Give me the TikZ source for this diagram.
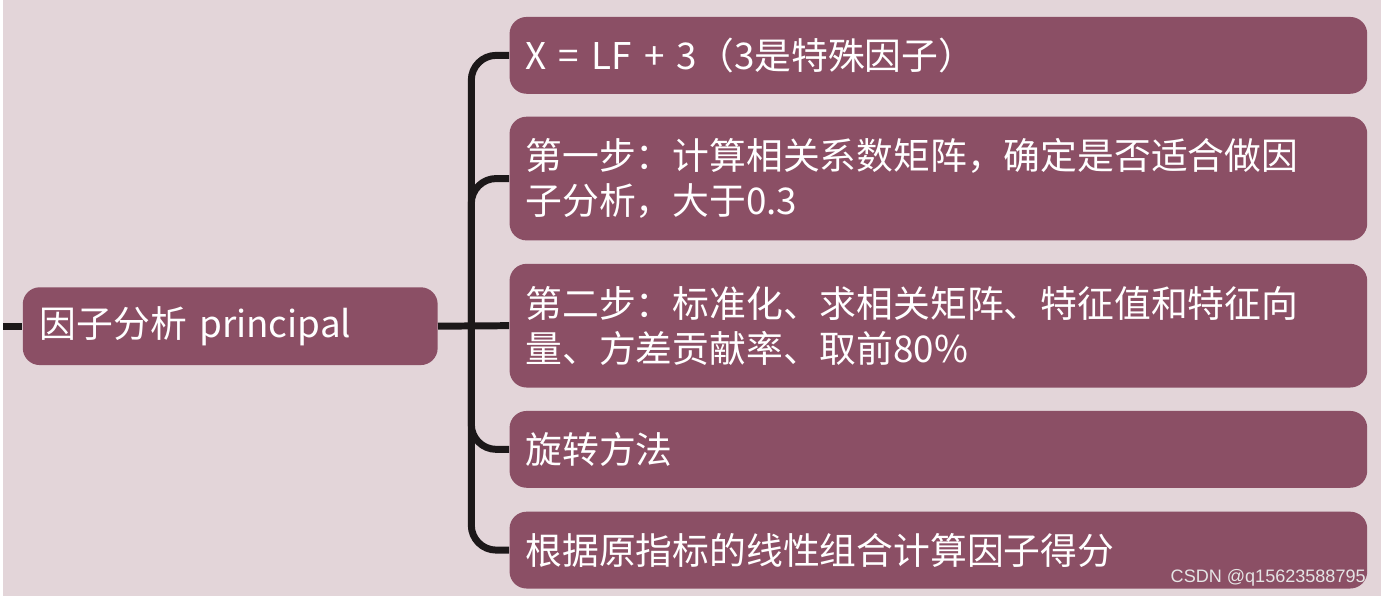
\documentclass[tikz,border=0pt]{standalone}
\usepackage{fontspec}
\setmainfont{Noto Sans CJK SC}
\newfontfamily\markfont{Liberation Sans}
\usepackage{tikz}
\usetikzlibrary{positioning}
\definecolor{bgpink}{HTML}{E3D5D9}
\definecolor{boxplum}{HTML}{8B4F65}
\definecolor{linedark}{HTML}{1C1819}

\begin{document}
\begin{tikzpicture}[
  x=0.02cm, y=-0.02cm,
  topic/.style={rectangle, fill=boxplum, rounded corners=0.34cm, text=white,
    font=\fontsize{21}{25.6}\selectfont, inner xsep=0.32cm, inner ysep=0pt,
    minimum height=1.54cm, align=left},
  leaf/.style={topic, anchor=west, minimum width=17.2cm, text width=16.56cm},
  branch/.style={line width=0.14cm, draw=linedark},
]
% background
\fill[bgpink] (0,0) rectangle (1381,598);

% Root
\node[topic, anchor=west, minimum width=8.32cm, text width=7.64cm, inner xsep=0.34cm, minimum height=1.56cm] (root) at (19,327) {因子分析 principal};

% Children
\node[leaf] (eq) at (507,55.5) {X = LF + 3（3是特殊因子）};
\node[leaf, minimum height=2.48cm] (step1) at (507,179) {第一步：计算相关系数矩阵，确定是否适合做因\\子分析，大于0.3};
\node[leaf, minimum height=2.48cm] (step2) at (507,326.5) {第二步：标准化、求相关矩阵、特征值和特征向\\量、方差贡献率、取前80\%};
\node[leaf] (rot) at (507,450.5) {旋转方法};
\node[leaf] (score) at (507,551.5) {根据原指标的线性组合计算因子得分};

% Connectors
\coordinate (stub) at (0,327);
\coordinate (trunk) at (469,327);
\draw[branch] (stub) -- (root.west);
\draw[branch] (root.east) -- (step2.west);
\draw[branch, rounded corners=0.5cm] (trunk) |- (eq.west);
\draw[branch, rounded corners=0.5cm] (trunk) |- (step1.west);
\draw[branch, rounded corners=0.5cm] (trunk) |- (rot.west);
\draw[branch, rounded corners=0.5cm] (trunk) |- (score.west);

% Watermark
\node[anchor=east, text=white!80!gray, font=\markfont\fontsize{10.3}{12}\selectfont, inner sep=0pt] (mark) at (1366,579) {CSDN @q15623588795};
\end{tikzpicture}
\end{document}
